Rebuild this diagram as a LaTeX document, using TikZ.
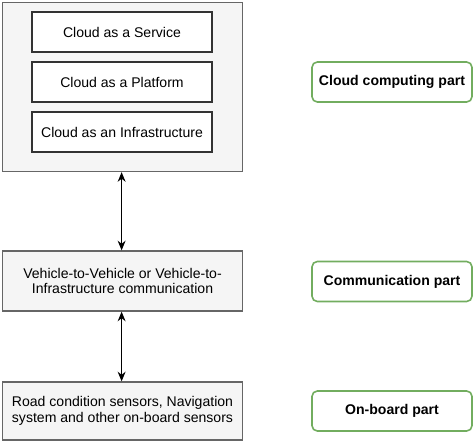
\documentclass[tikz,border=0pt]{standalone}
\usepackage{fontspec}
\setmainfont{Liberation Sans}
\usetikzlibrary{arrows.meta}
\definecolor{partgreen}{HTML}{72AD5F}
\tikzset{every node/.style={inner sep=0pt,align=center,font=\fontsize{8}{8.7}\selectfont},
         graybox/.style={draw=black!60,fill=black!4,line width=0.75pt},
         layerbox/.style={draw=black!80,fill=white,line width=0.75pt,minimum width=3.6cm,minimum height=0.8cm},
         partbox/.style={draw=partgreen,line width=0.9pt,rounded corners=3pt,fill=white,
                         minimum width=3.2cm,minimum height=0.8cm,font=\fontsize{8}{8.7}\selectfont\bfseries},
         link/.style={{Stealth[length=5.5pt,width=4.5pt]}-{Stealth[length=5.5pt,width=4.5pt]},line width=0.7pt}}

\begin{document}
\begin{tikzpicture}[x=0.02cm,y=-0.02cm]
        % frame of the whole picture
        \useasboundingbox (0,0) rectangle (474,443);

        % left column: the three layers
        \node[graybox,minimum width=4.8cm,minimum height=3.38cm] (cloud) at (122.5,87) {};
        \node[layerbox] (saas) at (122,32) {Cloud as a Service};
        \node[layerbox] (paas) at (122,82) {Cloud as a Platform};
        \node[layerbox] (iaas) at (122,132) {Cloud as an Infrastructure};

        \node[graybox,minimum width=4.8cm,minimum height=1.2cm] (comm) at (122.5,281)
            {Vehicle-to-Vehicle or Vehicle-to-\\Infrastructure communication};
        \node[graybox,minimum width=4.8cm,minimum height=1.16cm] (board) at (122.5,411)
            {Road condition sensors, Navigation\\system and other on-board sensors};

        % right column: names of the parts
        \node[partbox] (cloudpart) at (392,82) {Cloud computing part};
        \node[partbox] (commpart) at (392,281.5) {Communication part};
        \node[partbox] (boardpart) at (392,411) {On-board part};

        % two way links between the layers
        \draw[link] ([xshift=-0.5]cloud.south) -- ([xshift=-0.5]comm.north);
        \draw[link] ([xshift=-0.5]comm.south) -- ([xshift=-0.5]board.north);

      \end{tikzpicture}
\end{document}
